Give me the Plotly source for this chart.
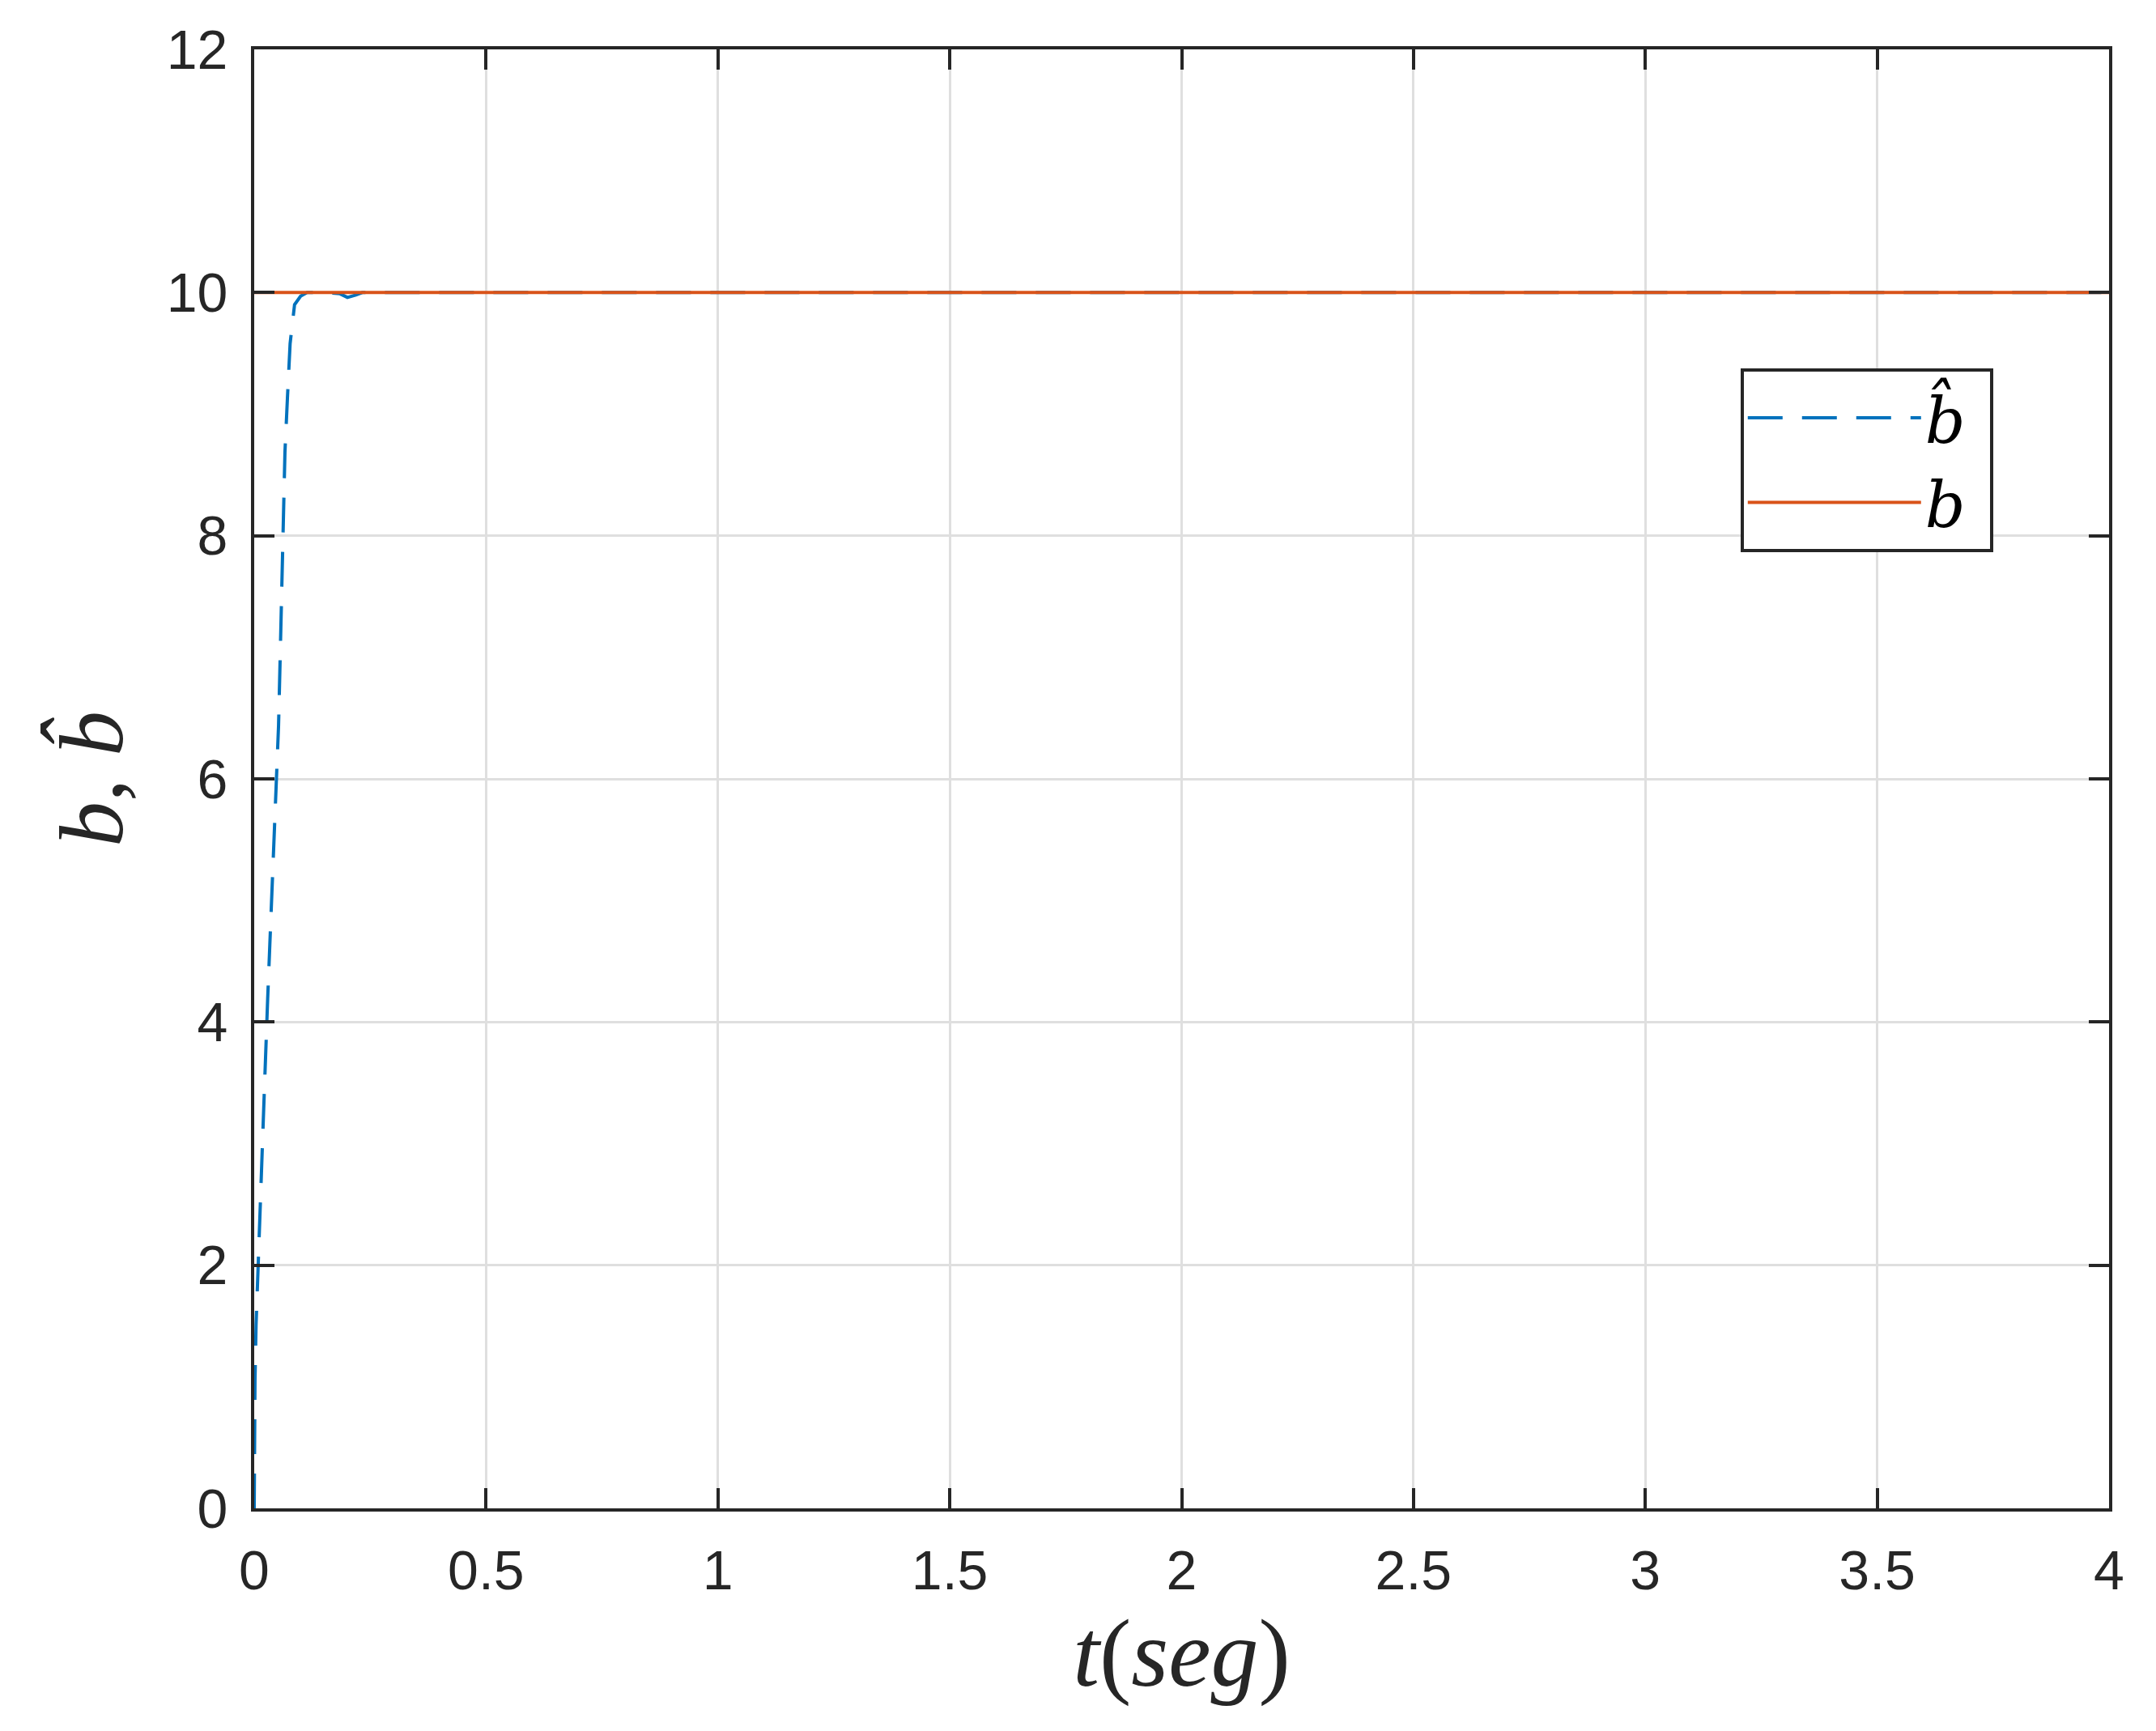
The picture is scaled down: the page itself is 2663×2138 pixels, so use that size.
import plotly.graph_objects as go

# estimated response b_hat(t)
t_hat = [0, 0.0008, 0.0017, 0.004, 0.0087, 0.0128, 0.0163, 0.0204, 0.0239, 0.029,
         0.0337, 0.0385, 0.0435, 0.0485, 0.0525, 0.0553, 0.0582, 0.0605, 0.0628,
         0.0663, 0.0716, 0.0774, 0.087, 0.1, 0.114, 0.15, 0.185, 0.201, 0.219,
         0.233, 0.3, 4.0]
b_hat = [0, 0.6, 1.05, 1.51, 1.96, 2.40, 2.84, 3.28, 3.74, 4.19,
         4.64, 5.09, 5.55, 5.99, 6.44, 6.89, 7.34, 7.78, 8.23,
         8.69, 9.13, 9.58, 9.90, 9.97, 10.0, 10.0, 9.99, 9.96, 9.98,
         10.0, 10.0, 10.0]

# true parameter b
t_true = [0, 4]
b_true = [10, 10]

x_ticks = [0, 0.5, 1, 1.5, 2, 2.5, 3, 3.5, 4]
y_ticks = [0, 2, 4, 6, 8, 10, 12]

AX = "#262626"
GRID = "#dfdfdf"
MATH = "Liberation Serif"

fig = go.Figure()
fig.add_trace(go.Scatter(
    x=t_hat, y=b_hat, mode="lines", name="<i>b̂</i>&nbsp;",
    line=dict(color="#0072BD", width=4, dash="43px,24px"),
))
fig.add_trace(go.Scatter(
    x=t_true, y=b_true, mode="lines", name="<i>b</i>&nbsp;",
    line=dict(color="#D95319", width=4),
))

axis_common = dict(
    showline=True, linecolor=AX, linewidth=4, mirror="ticks",
    ticks="inside", ticklen=25, tickwidth=4, tickcolor=AX,
    showgrid=True, gridcolor=GRID, gridwidth=3, zeroline=False,
    tickfont=dict(family="Liberation Sans", size=68, color=AX),
)

fig.update_xaxes(
    range=[0, 4], tickvals=x_ticks, ticktext=[str(v) for v in x_ticks],
    ticklabelstandoff=14,
    title=dict(text="<i>t</i>(<i>seg</i>)", font=dict(family=MATH, size=118, color=AX), standoff=14),
    **axis_common,
)
fig.update_yaxes(
    range=[0, 12], tickvals=y_ticks,
    ticklabelstandoff=15,
    title=dict(text="<i>b</i>, <i>b̂</i>", font=dict(family=MATH, size=112, color=AX), standoff=18),
    **axis_common,
)

fig.update_layout(
    width=2647, height=2122,
    margin=dict(l=306, r=50, t=53, b=267),
    plot_bgcolor="white", paper_bgcolor="white",
    showlegend=True,
    legend=dict(
        x=0.8013, y=0.7814, xanchor="left", yanchor="top",
        bgcolor="white", bordercolor=AX, borderwidth=4,
        font=dict(family="DejaVu Serif", size=78, color="black"),
        itemwidth=214, tracegroupgap=0,
    ),
)

fig.write_html("out.html")
